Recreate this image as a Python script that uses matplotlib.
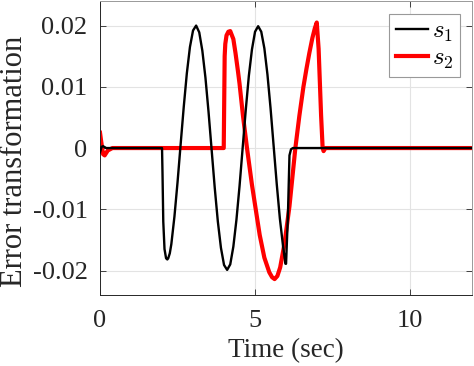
import matplotlib
matplotlib.use("Agg")
import matplotlib.pyplot as plt

plt.rcParams['font.family'] = ['Liberation Serif', 'DejaVu Serif']
plt.rcParams['mathtext.fontset'] = 'cm'

# time (sec) and value pairs
t1 = [0.0, 0.05, 0.1, 0.2, 2.0, 2.015, 2.04, 2.08, 2.13, 2.17, 2.2, 2.25, 2.3,
      2.4, 2.5, 2.6, 2.7, 2.8, 2.9, 3.0, 3.1, 3.2, 3.3, 3.4, 3.5, 3.6, 3.7,
      3.8, 3.9, 4.0, 4.1, 4.2, 4.3, 4.4, 4.5, 4.6, 4.7, 4.8, 4.9, 5.0, 5.1,
      5.2, 5.3, 5.4, 5.5, 5.6, 5.7, 5.8, 5.9, 5.98, 6.0, 6.06, 6.11, 6.16,
      6.22, 12.0]
s1 = [-0.0007, 0.0002, 0.0003, 0.0, 0.0, -0.004, -0.012, -0.0165, -0.018,
      -0.0182, -0.018, -0.0172, -0.0157, -0.0112, -0.0056, 0.0006, 0.0067,
      0.0122, 0.0165, 0.0192, 0.02, 0.0189, 0.0159, 0.0115, 0.0059, -0.0003,
      -0.0065, -0.012, -0.0163, -0.0191, -0.0199, -0.019, -0.0161, -0.0117,
      -0.0062, 0.0, 0.0062, 0.0118, 0.0161, 0.019, 0.0199, 0.019, 0.0163,
      0.012, 0.0065, 0.0003, -0.0059, -0.0115, -0.0159, -0.0189, -0.0189,
      -0.011, -0.0012, -0.0002, 0.0, 0.0]

t2 = [0.0, 0.04, 0.1, 0.15, 0.25, 0.4, 3.99, 4.0, 4.02, 4.04, 4.08, 4.14,
      4.2, 4.3, 4.37, 4.45, 4.5, 4.61, 4.74, 4.9, 5.04, 5.15, 5.3, 5.46,
      5.55, 5.63, 5.72, 5.81, 5.95, 6.11, 6.2, 6.3, 6.43, 6.56, 6.66, 6.75,
      6.85, 6.93, 6.99, 7.05, 7.13, 7.18, 7.21, 7.27, 12.0]
s2 = [0.0025, 0.001, -0.001, -0.0012, -0.0004, 0.0, 0.0, 0.005, 0.015,
      0.017, 0.0184, 0.019, 0.0191, 0.0178, 0.0155, 0.0125, 0.0105, 0.0053,
      0.0, -0.006, -0.0106, -0.0142, -0.0179, -0.0203, -0.0211, -0.0214,
      -0.0209, -0.0195, -0.0156, -0.0095, -0.005, 0.0, 0.0053, 0.01, 0.013,
      0.0155, 0.018, 0.0196, 0.0205, 0.0162, 0.0053, 0.0, -0.0005, 0.0, 0.0]

xticks = [0, 5, 10]
yticks = [-0.02, -0.01, 0, 0.01, 0.02]
yticklabels = ['-0.02', '-0.01', '0', '0.01', '0.02']

fig = plt.figure(figsize=(4.74, 3.66), dpi=100)
ax = fig.add_axes([0.211, 0.194, 0.785, 0.803])

ax.plot(t1, s1, color='black', lw=1.7, label='$s_1$', zorder=3)
ax.plot(t2, s2, color='#ff0000', lw=3.0, label='$s_2$', zorder=2)

ax.set_xlim(0, 12)
ax.set_ylim(-0.024, 0.024)
ax.set_xticks(xticks)
ax.set_xticklabels([str(x) for x in xticks])
ax.set_yticks(yticks)
ax.set_yticklabels(yticklabels)

ax.grid(True, color='#e3e3e3', lw=0.8)
ax.set_axisbelow(True)
ax.tick_params(direction='in', top=True, right=True, length=4, width=0.6,
               colors='#262626', labelsize=19)
ax.tick_params(axis='x', pad=11)
ax.tick_params(axis='y', pad=9)
for sp in ax.spines.values():
    sp.set_color('#262626')
    sp.set_linewidth(0.7)
ax.spines['top'].set_color('#999999')
ax.spines['right'].set_color('#999999')

ax.set_xlabel('Time (sec)', fontsize=19.5, color='#262626', labelpad=4)
ax.set_ylabel('Error transformation', fontsize=22, color='#262626')
ax.yaxis.set_label_coords(-0.192, 0.455)

leg = ax.legend(loc='upper right', fontsize=18, handlelength=1.3,
                handletextpad=0.15, borderpad=0.25, labelspacing=0.15,
                fancybox=False, framealpha=1, borderaxespad=0.5)
leg.get_frame().set_edgecolor('#999999')
leg.get_frame().set_linewidth(0.8)

fig.savefig('out.png', dpi=100)
